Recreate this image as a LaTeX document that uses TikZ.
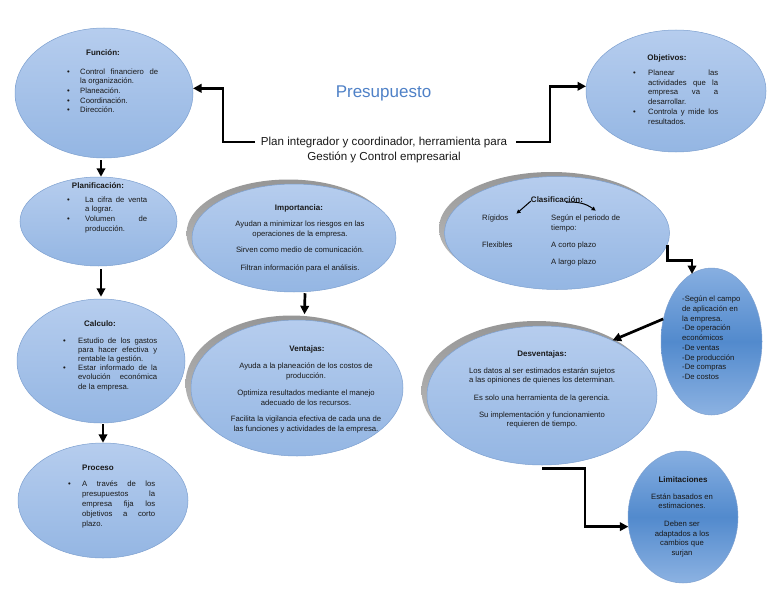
\documentclass[tikz,border=0pt]{standalone}
\usepackage{fontspec}
\setmainfont{Liberation Sans}
\usetikzlibrary{shapes.geometric,arrows.meta}
\newcommand\bl[1]{\makebox[#1][l]{\textbullet}}
\newcommand\jl[2]{\makebox[#1][s]{#2}}
\newcommand\ind[1]{\hspace*{#1}}
\definecolor{eTop}{RGB}{182,205,238}
\definecolor{eBot}{RGB}{148,182,227}
\definecolor{eLine}{RGB}{125,160,208}
\definecolor{gTop}{RGB}{150,150,150}
\definecolor{gBot}{RGB}{195,195,195}
\definecolor{dTop}{RGB}{135,175,225}
\definecolor{dMid}{RGB}{82,138,205}
\definecolor{dBot}{RGB}{140,178,226}
\definecolor{ttl}{RGB}{79,129,199}
\definecolor{txt}{RGB}{25,25,25}
\tikzset{
 ell/.style={ellipse, inner sep=0pt, draw=eLine, line width=0.5pt, top color=eTop, bottom color=eBot},
 shd/.style={ellipse, inner sep=0pt, top color=gTop, bottom color=gBot},
 dell/.style={ellipse, inner sep=0pt, draw=eLine, line width=0.5pt, top color=dTop, bottom color=dBot, middle color=dMid},
 head/.style={font=\fontsize{8}{10}\selectfont\bfseries, inner sep=0pt, anchor=base, text=txt},
 body/.style={font=\fontsize{7.7}{10}\selectfont, inner sep=0pt, anchor=base west, align=left, text=txt},
 cbody/.style={font=\fontsize{7.7}{10}\selectfont, inner sep=0pt, anchor=base, align=center, text=txt},
 conn/.style={line width=2.7pt, -{Triangle[length=8.5pt,width=8.5pt]}},
 minor/.style={line width=1pt, -{Triangle[length=4pt,width=4pt]}},
}
\begin{document}
\begin{tikzpicture}[x=1pt,y=-1pt]
\useasboundingbox[fill=white] (0,0) rectangle (768,594);

% ---- title and central text (multi-line nodes: base = last line)
\node[font=\fontsize{17}{20}\selectfont, text=ttl, anchor=base, inner sep=0pt] (presupuesto) at (383.5,97.5) {Presupuesto};
\node[font=\fontsize{11.6}{15}\selectfont, align=center, anchor=base, inner sep=0pt, text=txt] (plan) at (384,160) {Plan integrador y coordinador, herramienta para\\Gestión y Control empresarial};

% ---- Funcion
\node[ell, minimum width=178pt, minimum height=130pt] (funcion) at (104,93) {};
\node[head] (funtitle) at (103,56) {Función:};
\node[body, font=\fontsize{7.7}{9.6}\selectfont] (funbody) at (67,112.6) {\bl{13pt}\jl{78pt}{Control financiero de}\\\ind{13pt}la organización.\\\bl{13pt}Planeación.\\\bl{13pt}Coordinación.\\\bl{13pt}Dirección.};

% ---- Objetivos
\node[ell, minimum width=180pt, minimum height=122pt] (objetivos) at (676,91) {};
\node[head] (objtitle) at (667,60) {Objetivos:};
\node[body, font=\fontsize{7.7}{9.8}\selectfont] (objbody) at (633,124.2) {\bl{15pt}\jl{70pt}{Planear las}\\\ind{15pt}\jl{70pt}{actividades que la}\\\ind{15pt}\jl{70pt}{empresa va a}\\\ind{15pt}desarrollar.\\\bl{15pt}\jl{70pt}{Controla y mide los}\\\ind{15pt}resultados.};

% ---- Planificacion
\node[ell, minimum width=157pt, minimum height=89pt] (planif) at (98.5,221.5) {};
\node[head] (plantitle) at (98,188.5) {Planificación:};
\node[body, font=\fontsize{7.7}{9.9}\selectfont] (planbody) at (67,231.7) {\bl{18pt}\jl{62pt}{La cifra de venta}\\\ind{18pt}a lograr.\\\bl{18pt}\jl{62pt}{Volumen de}\\\ind{18pt}producción.};

% ---- Calculo
\node[ell, minimum width=168pt, minimum height=124pt] (calculo) at (101,361) {};
\node[head] (caltitle) at (100,326) {Calculo:};
\node[body, font=\fontsize{7.7}{9.1}\selectfont] (calbody) at (63,389) {\bl{15pt}\jl{79pt}{Estudio de los gastos}\\\ind{15pt}\jl{79pt}{para hacer efectiva y}\\\ind{15pt}rentable la gestión.\\\bl{15pt}\jl{79pt}{Estar informado de la}\\\ind{15pt}\jl{79pt}{evolución económica}\\\ind{15pt}de la empresa.};

% ---- Proceso
\node[ell, minimum width=170pt, minimum height=115pt] (proceso) at (103,500.5) {};
\node[head] (protitle) at (98,470) {Proceso};
\node[body, font=\fontsize{7.7}{10}\selectfont] (probody) at (68,526) {\bl{14pt}\jl{73pt}{A través de los}\\\ind{14pt}\jl{73pt}{presupuestos la}\\\ind{14pt}\jl{73pt}{empresa fija los}\\\ind{14pt}\jl{73pt}{objetivos a corto}\\\ind{14pt}plazo.};

% ---- Importancia
\node[shd, minimum width=204pt, minimum height=108pt] (impsh) at (288.5,233.5) {};
\node[ell, minimum width=204pt, minimum height=108pt] (importancia) at (294,238) {};
\node[head] (imptitle) at (299,210) {Importancia:};
\node[cbody, font=\fontsize{7.7}{10.5}\selectfont] (impbody) at (300,270.5) {Ayudan a minimizar los riesgos en las\\operaciones de la empresa.\\[5pt]Sirven como medio de comunicación.\\[8pt]Filtran información para el análisis.};

% ---- Ventajas
\node[shd, minimum width=212pt, minimum height=136pt] (vensh) at (291.5,383.5) {};
\node[ell, minimum width=212pt, minimum height=136pt] (ventajas) at (297,388) {};
\node[head] (ventitle) at (307,351) {Ventajas:};
\node[cbody, font=\fontsize{7.7}{10}\selectfont] (venbody) at (306,431.5) {Ayuda a la planeación de los costos de\\producción.\\[7.3pt]Optimiza resultados mediante el manejo\\adecuado de los recursos.\\[6pt]Facilita la vigilancia efectiva de cada una de\\las funciones y actividades de la empresa.};

% ---- Clasificacion
\node[shd, minimum width=225pt, minimum height=113pt] (clash) at (551.5,228.5) {};
\node[ell, minimum width=225pt, minimum height=113pt] (clasificacion) at (557,233) {};
\node[head] (clastitle) at (557,202) {Clasificación:};
\node[body] (rigidos) at (482,220.5) {Rígidos};
\node[body] (flexibles) at (482,247.5) {Flexibles};
\node[body] (segun) at (551,230.5) {Según el periodo de\\tiempo:};
\node[body] (corto) at (551,247.5) {A corto plazo};
\node[body] (largo) at (551,264.5) {A largo plazo};

% ---- Desventajas
\node[shd, minimum width=230pt, minimum height=139pt] (dessh) at (536.5,390.5) {};
\node[ell, minimum width=230pt, minimum height=139pt] (desventajas) at (542,395.5) {};
\node[head] (destitle) at (542,356) {Desventajas:};
\node[cbody, font=\fontsize{7.7}{9.3}\selectfont] (desbody) at (542,426.8) {Los datos al ser estimados estarán sujetos\\a las opiniones de quienes los determinan.\\[9pt]Es solo una herramienta de la gerencia.\\[7.4pt]Su implementación y funcionamiento\\requieren de tiempo.};

% ---- Tipos (right)
\node[dell, minimum width=101pt, minimum height=147pt] (tipos) at (711.5,341.5) {};
\node[body, font=\fontsize{7.7}{9.75}\selectfont] (tipbody) at (682,379.5) {-Según el campo\\de aplicación en\\la empresa.\\-De operación\\económicos\\-De ventas\\-De producción\\-De compras\\-De costos};

% ---- Limitaciones
\node[dell, minimum width=110pt, minimum height=132pt] (limit) at (683,517) {};
\node[head] (limtitle) at (683,482) {Limitaciones};
\node[cbody, font=\fontsize{7.7}{9.5}\selectfont] (limbody) at (682,555.2) {Están basados en\\estimaciones.\\[8.5pt]Deben ser\\adaptados a los\\cambios que\\surjan};

% ---- connectors
\coordinate (pl) at (255,142);
\coordinate (pr) at (516,142);
\coordinate (tipin) at (692,274);
\draw[conn] (pl) -- (223,142) |- (funcion.3);
\draw[conn] (pr) -- (550,142) |- (objetivos.177);
\draw[conn] ([xshift=-3pt,yshift=-2pt]funcion.south) -- ([xshift=2.5pt]planif.north);
\draw[conn] ([xshift=2.5pt,yshift=-3pt]planif.south) -- ([yshift=2pt]calculo.north);
\draw[conn] ([xshift=2pt,yshift=-1pt]calculo.south) -- (proceso.north);
\draw[conn] ([xshift=11pt,yshift=-1pt]importancia.south) -- ([xshift=13pt,yshift=1pt]vensh.north);
\draw[conn] (clasificacion.-6) -- ++(0,16) -| (tipin);
\draw[conn] (tipos.155) -- (desventajas.38);
\draw[conn] ([yshift=-3pt]desventajas.south) -- ++(43,0) |- (limit.190);
\draw[minor] ([yshift=-2pt]clastitle.west) -- ([xshift=8pt,yshift=1pt]rigidos.north east);
\draw[minor] ([xshift=9pt]clastitle.south) to[bend left=20] ([xshift=10pt,yshift=4pt]segun.north);
\end{tikzpicture}
\end{document}
